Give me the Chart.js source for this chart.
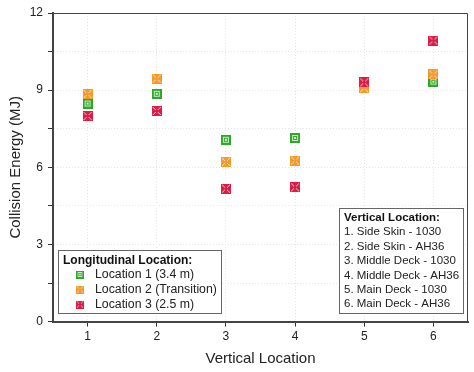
<!DOCTYPE html>
<html>
<head>
<meta charset="utf-8">
<script src="https://cdn.jsdelivr.net/npm/chart.js@4.4.0/dist/chart.umd.min.js"></script>
<style>
  body { margin: 0; background: #fff; }
  #wrap { width: 474px; height: 372px; }
</style>
</head>
<body>
<div id="wrap"><canvas id="myChart" width="474" height="372"></canvas></div>
<script>
const posiciones = [1, 2, 3, 4, 5, 6];
const location1 = [8.48, 8.86, 7.07, 7.14, 9.30, 9.33];
const location2 = [8.85, 9.45, 6.21, 6.26, 9.08, 9.61];
const location3 = [7.99, 8.19, 5.17, 5.22, 9.30, 10.93];
const nombresSerie = ["Location 1 (3.4 m)", "Location 2 (Transition)", "Location 3 (2.5 m)"];
const coloresSerie = ["#2fa82a", "#f39a2a", "#d81e45"];
const verticalLabels = [
  "1. Side Skin - 1030",
  "2. Side Skin - AH36",
  "3. Middle Deck - 1030",
  "4. Middle Deck - AH36",
  "5. Main Deck - 1030",
  "6. Main Deck - AH36"
];
const yTicks = [0, 3, 6, 9, 12];

function marcador(color, tipo) {
  const c = document.createElement("canvas");
  c.width = 10; c.height = 10;
  const g = c.getContext("2d");
  g.fillStyle = color;
  g.fillRect(0, 0, 10, 10);
  g.strokeStyle = "rgba(255,255,255,0.75)";
  g.lineWidth = 1;
  if (tipo === 0) {
    g.fillStyle = "rgba(255,255,255,0.85)";
    g.fillRect(4, 4, 2, 2);
    g.strokeRect(2.5, 2.5, 5, 5);
  } else {
    g.beginPath();
    g.moveTo(1, 1); g.lineTo(9, 9);
    g.moveTo(9, 1); g.lineTo(1, 9);
    g.stroke();
    g.fillStyle = color;
    g.fillRect(4, 4, 2, 2);
  }
  return c;
}
const marcadores = coloresSerie.map((c, i) => marcador(c, i));

function puntos(valores) {
  return posiciones.map((x, i) => ({ x: x, y: valores[i] }));
}

const leyendas = {
  id: "leyendas",
  afterDraw(chart) {
    const ctx = chart.ctx;
    const a = chart.chartArea;
    ctx.save();
    // borde superior y derecho
    ctx.strokeStyle = "#444";
    ctx.lineWidth = 1;
    ctx.beginPath();
    ctx.moveTo(a.left, a.top + 0.5);
    ctx.lineTo(a.right - 0.5, a.top + 0.5);
    ctx.lineTo(a.right - 0.5, a.bottom);
    ctx.stroke();

    // leyenda longitudinal
    ctx.fillStyle = "#fff";
    ctx.strokeStyle = "#666";
    ctx.fillRect(58.5, 250.5, 163, 63);
    ctx.strokeRect(58.5, 250.5, 163, 63);
    ctx.fillStyle = "#111";
    ctx.textBaseline = "middle";
    ctx.font = "bold 12px 'Liberation Sans', Arial, sans-serif";
    ctx.fillText("Longitudinal Location:", 63, 260.5);
    ctx.font = "12.3px 'Liberation Sans', Arial, sans-serif";
    nombresSerie.forEach((n, i) => {
      const y = 274.5 + i * 15;
      ctx.drawImage(marcadores[i], 76, y - 4, 8, 8);
      ctx.fillStyle = "#222";
      ctx.fillText(n, 95, y);
    });

    // leyenda vertical
    ctx.fillStyle = "#fff";
    ctx.fillRect(339.5, 208.5, 124, 105);
    ctx.strokeRect(339.5, 208.5, 124, 105);
    ctx.fillStyle = "#111";
    ctx.font = "bold 11.5px 'Liberation Sans', Arial, sans-serif";
    ctx.fillText("Vertical Location:", 344, 218);
    ctx.font = "11.5px 'Liberation Sans', Arial, sans-serif";
    verticalLabels.forEach((t, i) => {
      ctx.fillStyle = "#222";
      ctx.fillText(t, 344, 232.3 + i * 14.4);
    });
    ctx.restore();
  }
};

const ctx = document.getElementById("myChart");
const myChart = new Chart(ctx, {
  type: "scatter",
  data: {
    datasets: [
      { label: nombresSerie[0], data: puntos(location1), pointStyle: marcadores[0], pointRadius: 5, order: 2 },
      { label: nombresSerie[1], data: puntos(location2), pointStyle: marcadores[1], pointRadius: 5, order: 1 },
      { label: nombresSerie[2], data: puntos(location3), pointStyle: marcadores[2], pointRadius: 5, order: 0 }
    ]
  },
  options: {
    responsive: false,
    animation: false,
    layout: { padding: { top: 13, right: 3, left: 0, bottom: 0 } },
    plugins: { legend: { display: false }, tooltip: { enabled: false } },
    scales: {
      x: {
        type: "linear",
        min: 0.5,
        max: 6.5,
        afterBuildTicks: (s) => { s.ticks = posiciones.map(v => ({ value: v })); },
        ticks: { color: "#222", font: { size: 12, family: "'Liberation Sans', Arial, sans-serif" }, padding: 3 },
        grid: { color: "#e4e4e4", tickColor: "#333", tickLength: 5, drawOnChartArea: true },
        border: { color: "#444", width: 2, dash: [1, 2] },
        title: { display: true, text: "Vertical Location", color: "#222", font: { size: 15, family: "'Liberation Sans', Arial, sans-serif" }, padding: { top: 3, bottom: 4 } }
      },
      y: {
        min: 0,
        max: 12,
        afterBuildTicks: (s) => {
          const t = [];
          for (let v = 0; v <= 12; v += 1.5) t.push({ value: v });
          s.ticks = t;
        },
        afterFit: (s) => { s.width = 53; },
        ticks: {
          color: "#222",
          font: { size: 12, family: "'Liberation Sans', Arial, sans-serif" },
          padding: 5,
          callback: (v) => yTicks.includes(v) ? String(v) : ""
        },
        grid: { color: "#e4e4e4", tickColor: "#333", tickLength: 5 },
        border: { color: "#444", width: 2, dash: [1, 2] },
        title: { display: true, text: "Collision Energy (MJ)", color: "#222", font: { size: 15, family: "'Liberation Sans', Arial, sans-serif" }, padding: { top: 7, bottom: 0 } }
      }
    }
  },
  plugins: [leyendas]
});
</script>
</body>
</html>
